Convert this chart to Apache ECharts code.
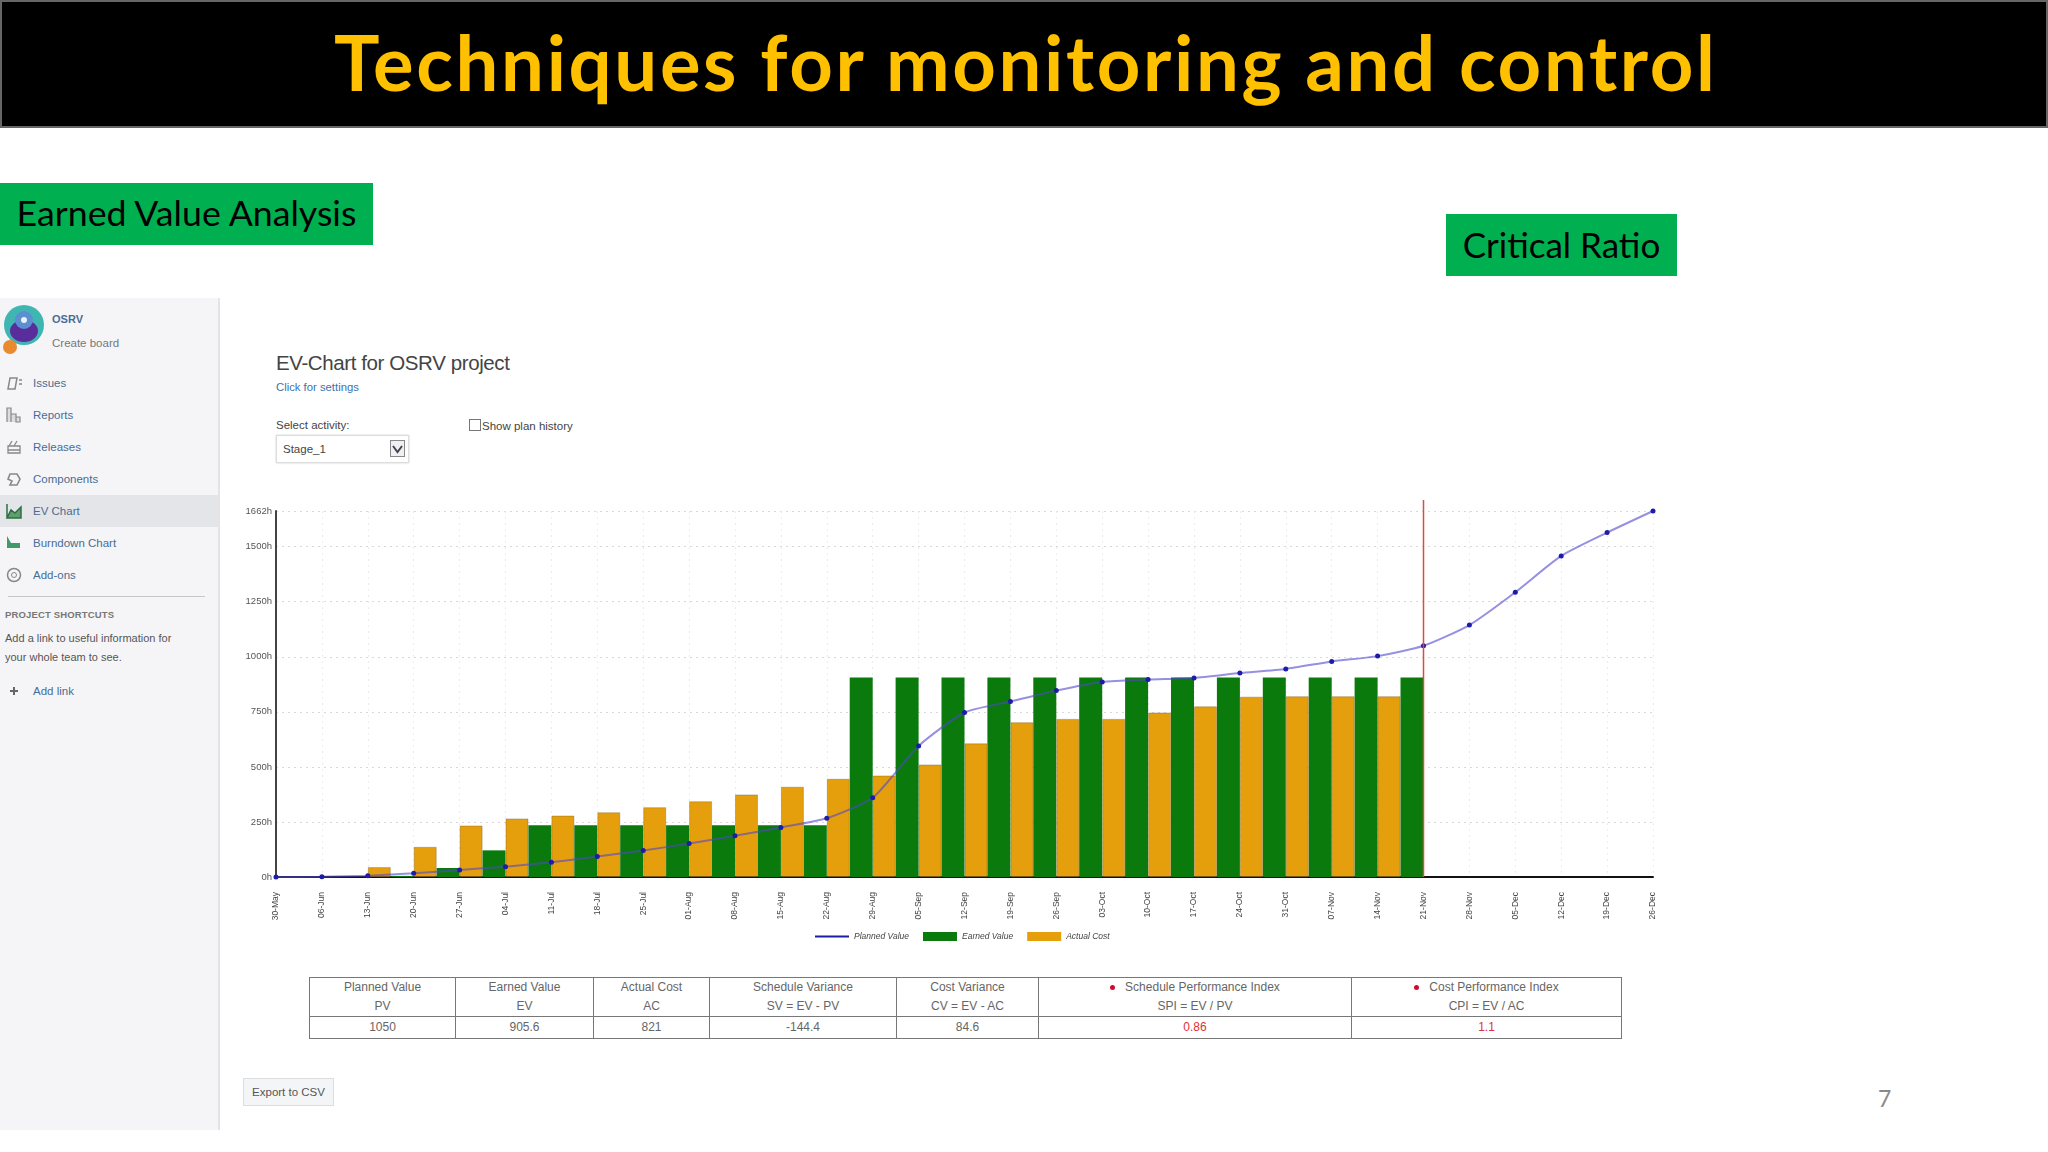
<!DOCTYPE html>
<html>
<head>
<meta charset="utf-8">
<title>Techniques for monitoring and control</title>
<script src="https://cdn.jsdelivr.net/npm/echarts@6/dist/echarts.min.js"></script>
<style>
	html, body { margin: 0; padding: 0; background: #fff; }
	#page { position: relative; width: 2048px; height: 1152px; overflow: hidden; font-family: "Liberation Sans", sans-serif; }
	#page div, #page svg { position: absolute; }
	#page div { white-space: nowrap; }
	#header { left: 0; top: 0; width: 2044px; height: 124px; background: #000; border: 2px solid #666; }
	#title { left: 334px; top: 16px; font: bold 76px Lato, sans-serif; color: #ffc000; letter-spacing: 2.65px; line-height: 92px; }
	.tag { background: #00b050; color: #000; font: 35px/60px Lato, sans-serif; height: 62px; text-align: center; }
	#pageNo { left: 1878px; top: 1084px; font: 23px Lato, sans-serif; color: #898989; }
	#sidebar { left: 0; top: 298px; width: 218px; height: 832px; background: #f5f5f8; border-right: 2px solid #e4e4e8; }
	#active { left: 0; top: 495px; width: 218px; height: 32px; background: #e4e5e8; }
	.nav { left: 33px; font-size: 11.5px; line-height: 14px; color: #4a6c94; }
	.plain { font-size: 11.5px; line-height: 14px; color: #555; }
	.small { font-size: 11px; }
	#chart { left: 230px; top: 490px; width: 1470px; height: 470px; }
	#stats { position: absolute; left: 309px; top: 977px; width: 1312px; border-collapse: collapse; table-layout: fixed; font-size: 12px; color: #666; }
	#stats td { border: 1px solid #777; text-align: center; padding: 0; line-height: 19px; }
	#stats .val { height: 21px; }
	#stats .red { color: #e0303a; }
	#stats i { display: inline-block; width: 5px; height: 5px; border-radius: 50%; background: #c8102e; margin-right: 10px; vertical-align: middle; }
	#csv { left: 243px; top: 1078px; width: 89px; height: 26px; line-height: 26px; text-align: center; background: #f4f5f7; border: 1px solid #ddd; font-size: 11.5px; color: #555; }
</style>
</head>
<body>
<div id="page">
	<div id="header"></div>
	<div id="title">Techniques for monitoring and control</div>
	<div class="tag" style="left:0;top:183px;width:373px;font-size:35.7px">Earned Value Analysis</div>
	<div class="tag" style="left:1446px;top:214px;width:231px">Critical Ratio</div>
	<div id="pageNo">7</div>

	<div id="sidebar"></div>
	<div id="active"></div>
	<svg style="left:0;top:298px" width="60" height="60">
		<circle cx="24" cy="27" r="20" fill="#3fb6b2"/>
		<ellipse cx="24" cy="33" rx="14" ry="11" fill="#5a2d9c"/>
		<circle cx="24" cy="22" r="9" fill="#5b8fd0"/>
		<circle cx="24" cy="22" r="3" fill="#e8f0f8"/>
		<circle cx="10" cy="49" r="7" fill="#e88a2e"/>
	</svg>
	<svg id="navIcons" style="left:0;top:370px" width="30" height="340"></svg>
	<div id="navText"></div>
	<div class="nav" style="left:52px;top:312px;font-weight:bold;font-size:11px">OSRV</div>
	<div class="plain" style="left:52px;top:336px;color:#777">Create board</div>
	<div style="left:8px;top:596px;width:197px;height:1px;background:#c8c8c8"></div>
	<div style="left:5px;top:609px;font-size:9.5px;font-weight:bold;line-height:12px;color:#777;letter-spacing:0.15px">PROJECT SHORTCUTS</div>
	<div class="plain small" style="left:5px;top:631px">Add a link to useful information for</div>
	<div class="plain small" style="left:5px;top:650px">your whole team to see.</div>

	<div style="left:276px;top:350px;font-size:20.5px;line-height:26px;color:#444;letter-spacing:-0.4px">EV-Chart for OSRV project</div>
	<div style="left:276px;top:380px;font-size:11.3px;line-height:14px;color:#3b73af">Click for settings</div>
	<div class="plain" style="left:276px;top:418px;color:#444">Select activity:</div>
	<div style="left:276px;top:435px;width:131px;height:26px;border:1px solid #ddd;box-shadow:0 0 2px #ccc"></div>
	<div class="plain" style="left:283px;top:442px;color:#444">Stage_1</div>
	<svg style="left:390px;top:440px" width="15" height="17">
		<rect x="0.5" y="0.5" width="14" height="16" fill="#eef0f2" stroke="#888"/>
		<path d="M3 6 L7.5 12 L12 6" fill="none" stroke="#445" stroke-width="2"/>
	</svg>
	<div style="left:469px;top:419px;width:10px;height:10px;border:1px solid #777;background:#fff"></div>
	<div class="plain" style="left:482px;top:419px;color:#444">Show plan history</div>

	<div id="chart"></div>
	<table id="stats"></table>
	<div id="csv">Export to CSV</div>
</div>

<script>
// x axis dates, one per week
const dates = ['30-May', '06-Jun', '13-Jun', '20-Jun', '27-Jun', '04-Jul', '11-Jul', '18-Jul', '25-Jul', '01-Aug', '08-Aug',
	'15-Aug', '22-Aug', '29-Aug', '05-Sep', '12-Sep', '19-Sep', '26-Sep', '03-Oct', '10-Oct', '17-Oct', '24-Oct', '31-Oct',
	'07-Nov', '14-Nov', '21-Nov', '28-Nov', '05-Dec', '12-Dec', '19-Dec', '26-Dec'];

const plannedValue = [0, 1, 6, 17, 32, 47, 67, 93, 120, 152, 187, 225, 267, 360, 595, 747, 797, 847, 886, 897, 904, 926, 945,
	979, 1003, 1050, 1144, 1293, 1458, 1564, 1662];

const earnedValue = [null, null, null, 5, 41, 121, 235, 235, 235, 235, 235, 235, 235, 905.6, 905.6, 905.6, 905.6, 905.6, 905.6,
	905.6, 905.6, 905.6, 905.6, 905.6, 905.6, 905.6, null, null, null, null, null];

const actualCost = [null, null, 45, 137, 234, 266, 279, 294, 317, 344, 375, 410, 446, 461, 511, 607, 703, 718, 718, 747, 775,
	819, 821, 821, 821, null, null, null, null, null, null];

const statusDate = '21-Nov';
const yMax = 1662;
const yStep = 250;

// table under the chart
const statHead = ['Planned Value', 'Earned Value', 'Actual Cost', 'Schedule Variance', 'Cost Variance', 'Schedule Performance Index', 'Cost Performance Index'];
const statFormula = ['PV', 'EV', 'AC', 'SV = EV - PV', 'CV = EV - AC', 'SPI = EV / PV', 'CPI = EV / AC'];
const statValue = ['1050', '905.6', '821', '-144.4', '84.6', '0.86', '1.1'];
const statWidth = [146, 138, 116, 187, 142, 313, 270];

const navItems = ['Issues', 'Reports', 'Releases', 'Components', 'EV Chart', 'Burndown Chart', 'Add-ons'];

// small grey shapes for the sidebar, drawn around the centre line c of each row
const navIcon = {
	'Issues': c => '<path d="M8 ' + (c + 6) + ' L10 ' + (c - 5) + ' H17 L15 ' + (c + 6) + ' Z M19 ' + (c - 3) + ' H22 M19 ' + (c + 1) + ' H22" fill="none" stroke="#888" stroke-width="1.5"/>',
	'Reports': c => '<path d="M7 ' + (c + 7) + ' V' + (c - 7) + ' H11 V' + (c + 7) + ' M11 ' + (c + 7) + ' V' + (c - 1) + ' H16 V' + (c + 7) + ' M16 ' + (c + 7) + ' V' + (c + 2) + ' H20 V' + (c + 7) + ' Z" fill="#ddd" stroke="#888" stroke-width="1.2"/>',
	'Releases': c => '<path d="M8 ' + (c - 1) + ' H20 V' + (c + 6) + ' H8 Z M9 ' + (c - 1) + ' L12 ' + (c - 6) + ' M14 ' + (c - 1) + ' L17 ' + (c - 6) + ' M8 ' + (c + 3) + ' H20" fill="none" stroke="#888" stroke-width="1.3"/>',
	'Components': c => '<path d="M10 ' + (c - 5) + ' H17 L20 ' + c + ' L17 ' + (c + 6) + ' H10 L12 ' + (c + 2) + ' L8 ' + c + ' Z" fill="none" stroke="#888" stroke-width="1.6"/>',
	'EV Chart': c => '<path d="M7 ' + (c + 7) + ' V' + (c - 7) + ' M7 ' + (c + 7) + ' H21 V' + (c - 4) + ' L15 ' + (c + 2) + ' L11 ' + (c - 1) + ' Z" fill="#5f9e6e" stroke="#2f6d44" stroke-width="1.5"/>',
	'Burndown Chart': c => '<path d="M7 ' + (c + 7) + ' V' + (c - 7) + ' L11 ' + c + ' H20 V' + (c + 5) + ' H7 Z" fill="#3e9a66"/>',
	'Add-ons': c => '<circle cx="14" cy="' + c + '" r="6.5" fill="none" stroke="#888" stroke-width="1.5"/><circle cx="14" cy="' + c + '" r="2.5" fill="none" stroke="#888"/>'
};

// sidebar
function drawSidebar() {
	let html = '', icons = '';
	navItems.forEach((name, i) => {
		const y = 376 + i * 32;
		html += '<div class="nav" style="top:' + y + 'px">' + name + '</div>';
		icons += navIcon[name](y + 7 - 370);
	});
	icons += '<path d="M10 321 H18 M14 317 V325" stroke="#666" stroke-width="2"/>';
	html += '<div class="nav" style="top:684px">Add link</div>';
	document.getElementById('navText').innerHTML = html;
	document.getElementById('navIcons').innerHTML = icons;
}

// table
function drawStats() {
	const marked = i => (i >= 5 ? '<i></i>' : '');
	let cols = '<colgroup>' + statWidth.map(w => '<col style="width:' + w + 'px">').join('') + '</colgroup>';
	let head = '<tr>' + statHead.map((h, i) => '<td>' + marked(i) + h + '<br>' + statFormula[i] + '</td>').join('') + '</tr>';
	let vals = '<tr>' + statValue.map((v, i) => '<td class="val' + (i >= 5 ? ' red' : '') + '">' + v + '</td>').join('') + '</tr>';
	document.getElementById('stats').innerHTML = cols + head + vals;
}

function getOption() {
	return {
		animation: false,
		textStyle: { fontFamily: 'Liberation Sans' },
		grid: { left: 46, right: 47, top: 21, height: 366 },
		legend: {
			left: 580,
			top: 437,
			itemGap: 14,
			itemWidth: 34,
			itemHeight: 9,
			textStyle: { fontSize: 8.5, fontStyle: 'italic', color: '#444' },
			data: [
				{ name: 'Planned Value', icon: 'path://M0 4H34V6H0Z', itemStyle: { color: '#1c1ca8' } },
				{ name: 'Earned Value', icon: 'rect' },
				{ name: 'Actual Cost', icon: 'rect', itemStyle: { borderWidth: 0 } }
			]
		},
		xAxis: {
			type: 'category',
			boundaryGap: false,
			data: dates,
			axisLine: { lineStyle: { color: '#111', width: 2 } },
			axisTick: { show: false },
			axisLabel: { rotate: 90, fontSize: 8.5, color: '#444', interval: 0, margin: 15 },
			splitLine: { show: true, lineStyle: { color: '#ececec', type: [2, 4] } }
		},
		yAxis: {
			type: 'value',
			min: 0,
			max: yMax,
			interval: yStep,
			axisLine: { show: true, lineStyle: { color: '#444', width: 2 } },
			axisTick: { show: false },
			axisLabel: { fontSize: 9.5, color: '#555', margin: 4, formatter: v => v + 'h' },
			splitLine: { lineStyle: { color: '#d8d8d8', type: [2, 4] } }
		},
		series: [
			{
				name: 'Earned Value',
				type: 'bar',
				data: earnedValue,
				barWidth: 23,
				barGap: 0,
				itemStyle: { color: '#0a7a0c' }
			},
			{
				name: 'Actual Cost',
				type: 'bar',
				data: actualCost,
				barWidth: 23,
				itemStyle: { color: '#e69f0c', borderColor: 'rgba(110,90,40,0.35)', borderWidth: 1 }
			},
			{
				name: 'Planned Value',
				type: 'line',
				data: plannedValue,
				smooth: 0.2,
				symbol: 'circle',
				symbolSize: 5,
				z: 5,
				lineStyle: { color: 'rgba(80,70,205,0.6)', width: 2 },
				itemStyle: { color: '#1c1ca8' }
			},
			{
				// status date line, runs a little above the plot
				name: 'Status date',
				type: 'custom',
				data: [[statusDate]],
				encode: { x: 0 },
				z: 6,
				silent: true,
				renderItem: (params, api) => {
					const base = api.coord([api.value(0), 0]);
					return {
						type: 'line',
						shape: { x1: base[0], y1: base[1], x2: base[0], y2: 10 },
						style: { stroke: '#e04a3a', lineWidth: 1.5 }
					};
				}
			}
		]
	};
}

drawSidebar();
drawStats();
const chart = echarts.init(document.getElementById('chart'));
chart.setOption(getOption());
</script>
</body>
</html>
